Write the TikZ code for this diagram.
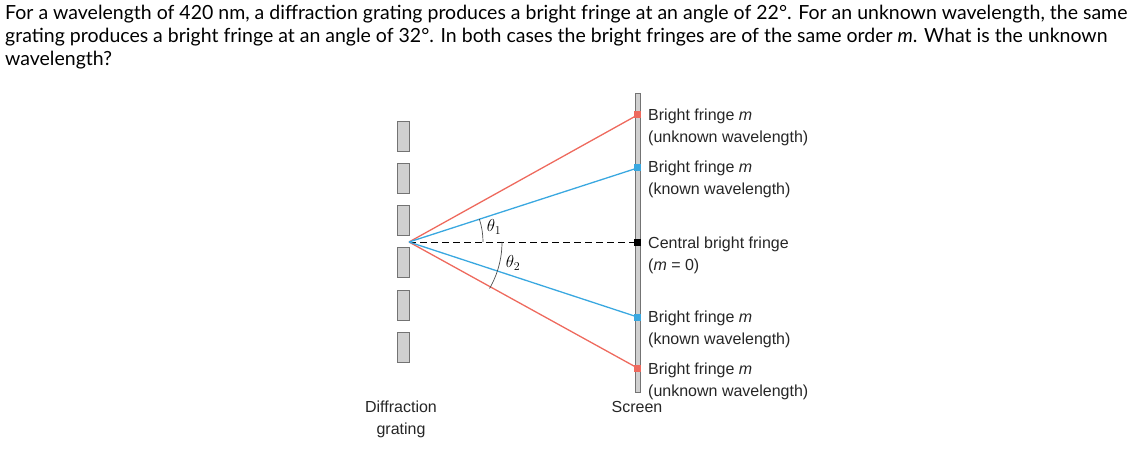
\documentclass[tikz,border=0pt]{standalone}
\usepackage{fontspec}
\usetikzlibrary{calc}
\setmainfont{Lato}
\newfontfamily\lab{Liberation Sans}
\definecolor{rd}{HTML}{EE6A5E}
\definecolor{bl}{HTML}{3AA8E0}
\definecolor{gr}{HTML}{D0D0D0}
\begin{document}
\begin{tikzpicture}[x=1pt,y=-1pt,
  q/.style={anchor=base west,inner sep=0,font=\fontsize{19.5}{23}\selectfont},
  lb/.style={anchor=base west,inner sep=0,font=\lab\fontsize{16}{19}\selectfont,text=black!85},
  bar/.style={draw=black!55,fill=gr,line width=0.7pt},
  fr/.style={minimum size=7pt,inner sep=0}]
\useasboundingbox (0,0) rectangle (1147,457);
\node[q] (l1) at (5,20) {For a wavelength of 420 nm, a diffraction grating produces a bright fringe at an angle of 22°. For an unknown wavelength, the same};
\node[q] (l2) at (5,43) {grating produces a bright fringe at an angle of 32°. In both cases the bright fringes are of the same order \textit{m}. What is the unknown};
\node[q] (l3) at (5,66) {wavelength?};
\foreach \y in {121,163,205,247,290,332} \draw[bar] (397,\y) rectangle (409,\y+30);
\draw[bar] (635,93) rectangle (640,392);
\coordinate (s) at (409,242);
\node[fr,fill=rd] (r1) at (637.5,115) {};
\node[fr,fill=bl] (b1) at (637.5,168) {};
\node[fr,fill=black] (c) at (637.5,242) {};
\node[fr,fill=bl] (b2) at (637.5,317) {};
\node[fr,fill=rd] (r2) at (637.5,368) {};
\draw[dashed,dash pattern=on 7pt off 4pt,line width=1pt] (s) -- (c.west);
\draw[rd,line width=1.3pt] (s) -- (r1.center) (s) -- (r2.center);
\draw[bl,line width=1.3pt] (s) -- (b1.center) (s) -- (b2.center);
\draw[black!70,line width=0.7pt] ($(s)+(74,0)$) arc[start angle=0,end angle=-18,radius=74];
\draw[black!70,line width=0.7pt] ($(s)+(93,0)$) arc[start angle=0,end angle=30,radius=93];
\node[font=\fontsize{17}{20}\selectfont,inner sep=0] (t1) at (494,227) {$\theta_1$};
\node[font=\fontsize{17}{20}\selectfont,inner sep=0] (t2) at (513,263) {$\theta_2$};
\node[lb] (a1) at (648,121) {Bright fringe \textit{m}};
\node[lb] (a2) at (648,143) {(unknown wavelength)};
\node[lb] (a3) at (648,172) {Bright fringe \textit{m}};
\node[lb] (a4) at (648,194) {(known wavelength)};
\node[lb] (a5) at (648,248) {Central bright fringe};
\node[lb] (a6) at (648,270) {(\textit{m} = 0)};
\node[lb] (a7) at (648,322) {Bright fringe \textit{m}};
\node[lb] (a8) at (648,344) {(known wavelength)};
\node[lb] (a9) at (648,374) {Bright fringe \textit{m}};
\node[lb] (a10) at (648,396) {(unknown wavelength)};
\node[lb,anchor=base] (g1) at (401,412) {Diffraction};
\node[lb,anchor=base] (g2) at (401,434) {grating};
\node[lb,anchor=base] (sc) at (637,412) {Screen};
\end{tikzpicture}
\end{document}
